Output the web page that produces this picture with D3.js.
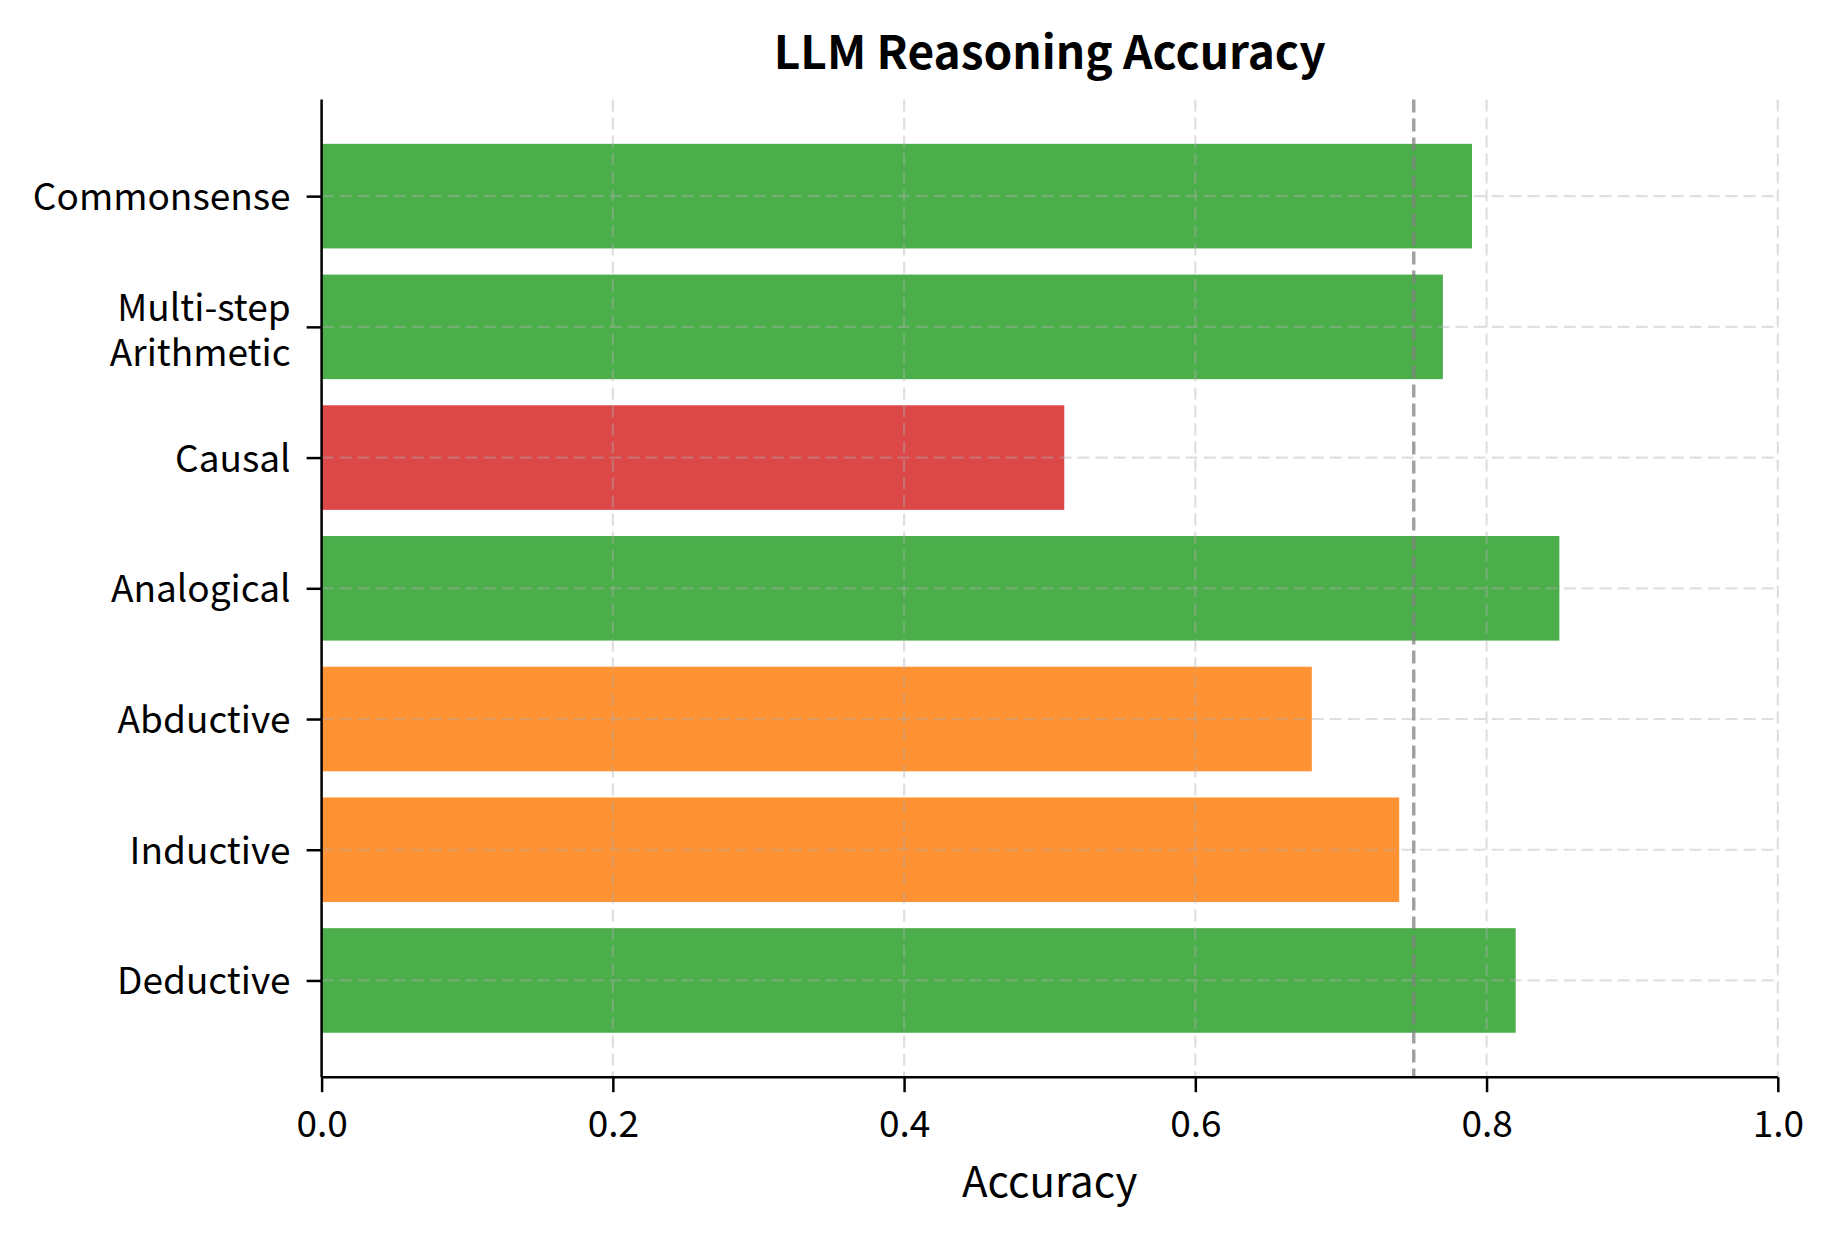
<!DOCTYPE html>
<html>
<head>
<meta charset="utf-8">
<script src="https://cdn.jsdelivr.net/npm/d3@7"></script>
<style>
  body { margin: 0; background: #fff; }
  text { font-family: "Noto Sans CJK JP", "Noto Sans", sans-serif; fill: #000; }
</style>
</head>
<body>
<div id="chart"></div>
<script>
// data, bottom to top
var categories = ["Deductive", "Inductive", "Abductive", "Analogical", "Causal", "Multi-step\nArithmetic", "Commonsense"];
var accuracy = [0.82, 0.74, 0.68, 0.85, 0.51, 0.77, 0.79];
var xTicks = [0.0, 0.2, 0.4, 0.6, 0.8, 1.0];
var threshold = 0.75;

var svgWidth = 1834;
var svgHeight = 1234;

var margin = { top: 99.4, right: 56.2, bottom: 156.8, left: 321.6 };
var width = svgWidth - margin.left - margin.right;
var height = svgHeight - margin.top - margin.bottom;

var svg = d3.select("#chart")
  .append("svg")
  .attr("width", svgWidth)
  .attr("height", svgHeight);

var chartGroup = svg.append("g")
  .attr("transform", `translate(${margin.left}, ${margin.top})`);

// color by accuracy band
function barColor(v) {
  if (v >= 0.75) return "#2ca02c";
  if (v >= 0.6) return "#ff7f0e";
  return "#d62728";
}

var xScale = d3.scaleLinear()
  .domain([0, 1])
  .range([0, width]);

// categories sit at integer positions, matplotlib style margins
var yScale = d3.scaleLinear()
  .domain([-0.74, categories.length - 1 + 0.74])
  .range([height, 0]);

var barH = yScale(0) - yScale(0.8);

// bars
chartGroup.selectAll("rect.bar")
  .data(accuracy)
  .enter()
  .append("rect")
  .attr("class", "bar")
  .attr("x", xScale(0))
  .attr("y", (d, i) => yScale(i) - barH / 2)
  .attr("width", d => xScale(d) - xScale(0))
  .attr("height", barH)
  .attr("fill", d => barColor(d))
  .attr("fill-opacity", 0.85);

// grid lines on top of bars
chartGroup.selectAll("line.vgrid")
  .data(xTicks.slice(1))
  .enter()
  .append("line")
  .attr("class", "vgrid")
  .attr("x1", d => xScale(d))
  .attr("x2", d => xScale(d))
  .attr("y1", 0)
  .attr("y2", height)
  .attr("stroke", "#b0b0b0")
  .attr("stroke-opacity", 0.4)
  .attr("stroke-width", 2.2)
  .attr("stroke-dasharray", "12,6");

chartGroup.selectAll("line.hgrid")
  .data(categories)
  .enter()
  .append("line")
  .attr("class", "hgrid")
  .attr("x1", 0)
  .attr("x2", width)
  .attr("y1", (d, i) => yScale(i))
  .attr("y2", (d, i) => yScale(i))
  .attr("stroke", "#b0b0b0")
  .attr("stroke-opacity", 0.4)
  .attr("stroke-width", 2.2)
  .attr("stroke-dasharray", "12,6");

// threshold line
chartGroup.append("line")
  .attr("x1", xScale(threshold))
  .attr("x2", xScale(threshold))
  .attr("y1", 0)
  .attr("y2", height)
  .attr("stroke", "#808080")
  .attr("stroke-opacity", 0.75)
  .attr("stroke-width", 3.4)
  .attr("stroke-dasharray", "13,6");

// axes
var xAxis = d3.axisBottom(xScale)
  .tickValues(xTicks)
  .tickFormat(d3.format(".1f"))
  .tickSize(15)
  .tickPadding(19);

var xAxisG = chartGroup.append("g")
  .attr("transform", `translate(0, ${height})`)
  .call(xAxis);

xAxisG.select(".domain").attr("stroke-width", 2.5).attr("d", `M0,0H${width}`);
xAxisG.selectAll(".tick line").attr("stroke-width", 2.5);
xAxisG.selectAll(".tick text")
  .attr("font-size", "37px")
  .attr("font-family", "'Noto Sans CJK JP', sans-serif");

var yAxis = d3.axisLeft(yScale)
  .tickValues(d3.range(categories.length))
  .tickFormat("")
  .tickSize(15);

var yAxisG = chartGroup.append("g").call(yAxis);
yAxisG.select(".domain").attr("stroke-width", 2.5).attr("d", `M0,0V${height}`);
yAxisG.selectAll(".tick line").attr("stroke-width", 2.5);

// category labels (allow line breaks)
var yLabels = chartGroup.selectAll("text.ylabel")
  .data(categories)
  .enter()
  .append("text")
  .attr("class", "ylabel")
  .attr("text-anchor", "end")
  .attr("font-size", "37px")
  .attr("transform", (d, i) => `translate(-31, ${yScale(i)})`);

yLabels.each(function (d) {
  var lines = d.split("\n");
  var lh = 45;
  var start = lines.length > 1 ? 17 - (lines.length - 1) * lh / 2 : 14;
  d3.select(this).selectAll("tspan")
    .data(lines)
    .enter()
    .append("tspan")
    .attr("x", 0)
    .attr("y", (l, j) => start + j * lh)
    .text(l => l);
});

// title and axis label
svg.append("text")
  .attr("x", margin.left + width / 2)
  .attr("y", 69)
  .attr("text-anchor", "middle")
  .attr("font-size", "46px")
  .attr("font-weight", "bold")
  .text("LLM Reasoning Accuracy");

svg.append("text")
  .attr("x", margin.left + width / 2)
  .attr("y", 1197)
  .attr("text-anchor", "middle")
  .attr("font-size", "42px")
  .text("Accuracy");
</script>
</body>
</html>
